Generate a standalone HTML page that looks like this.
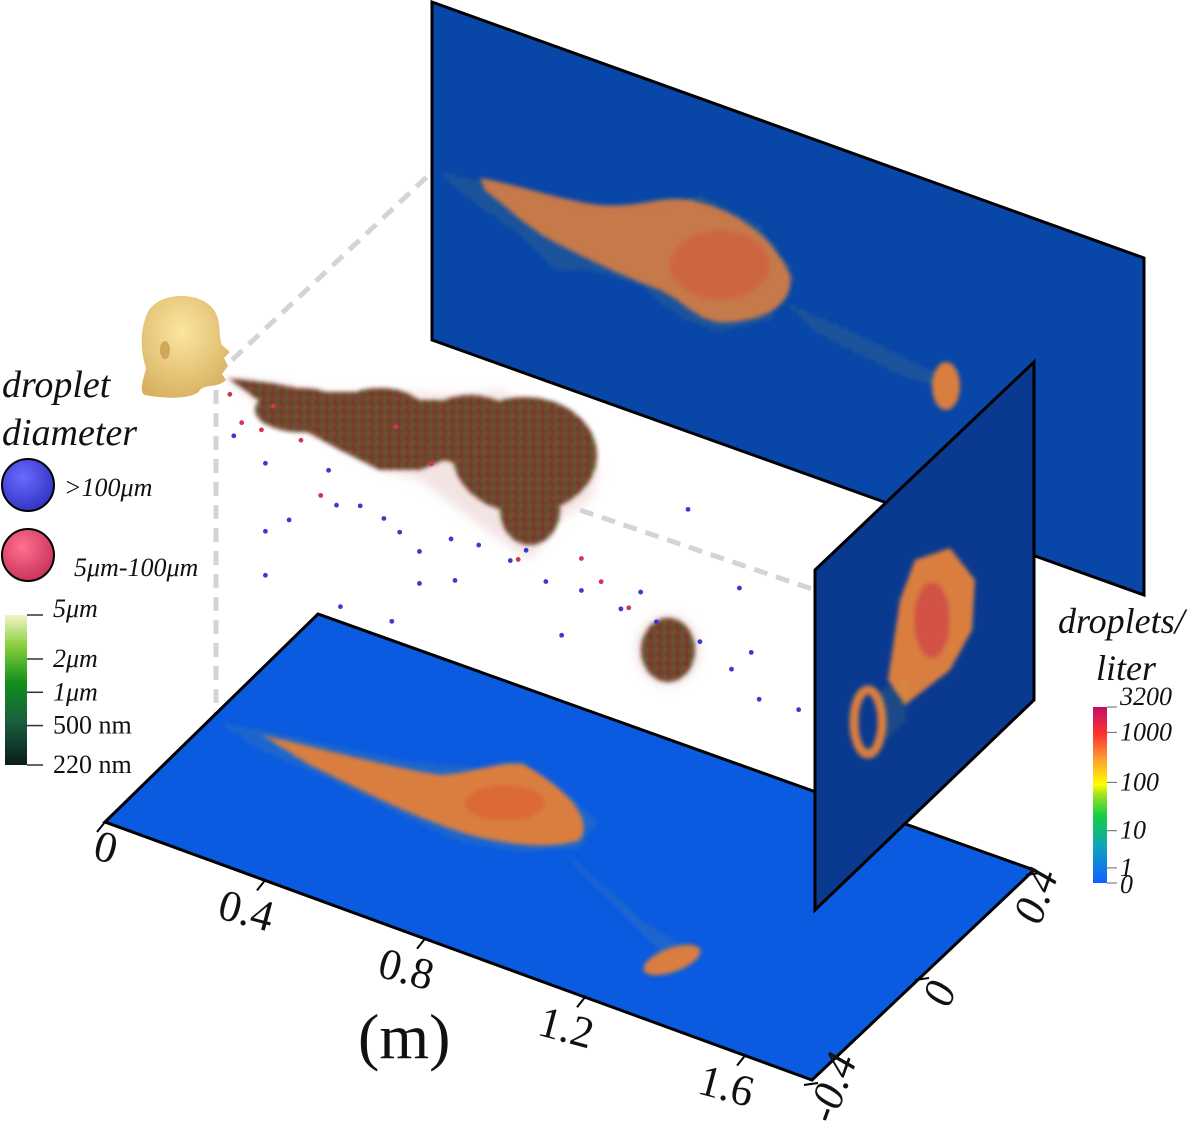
<!DOCTYPE html>
<html><head><meta charset="utf-8"><style>
html,body{margin:0;padding:0;background:#fff;}
svg{display:block;font-family:"Liberation Serif",serif;}
</style></head><body>
<svg id="chart" width="1200" height="1136" viewBox="0 0 1200 1136" xmlns="http://www.w3.org/2000/svg">
<defs>
  <filter id="blur2" x="-20%" y="-20%" width="140%" height="140%"><feGaussianBlur stdDeviation="2"/></filter>
  <filter id="blur5" x="-30%" y="-30%" width="160%" height="160%"><feGaussianBlur stdDeviation="5"/></filter>
  <filter id="blur8" x="-30%" y="-30%" width="160%" height="160%"><feGaussianBlur stdDeviation="8"/></filter>
  <pattern id="speck" width="9" height="9" patternUnits="userSpaceOnUse">
    <rect width="9" height="9" fill="#4a3420"/>
    <circle cx="2" cy="2" r="1.6" fill="#c8304a"/>
    <circle cx="6.5" cy="5" r="1.4" fill="#8a8a3a"/>
    <circle cx="3" cy="7" r="1.2" fill="#b02a40"/>
    <circle cx="7.5" cy="1" r="0.9" fill="#d8c870"/>
  </pattern>
  <pattern id="speckO" width="5" height="5" patternUnits="userSpaceOnUse">
    <rect width="5" height="5" fill="#e07a40"/>
    <circle cx="1.2" cy="1.2" r="0.9" fill="#a8b040"/>
    <circle cx="3.8" cy="3.5" r="0.9" fill="#d85038"/>
  </pattern>
  <pattern id="speckG" width="6" height="6" patternUnits="userSpaceOnUse">
    <circle cx="1.5" cy="1.5" r="0.9" fill="#9ac040"/>
    <circle cx="4.5" cy="4.5" r="0.8" fill="#c8b040"/>
  </pattern>
  <linearGradient id="rainbow" x1="0" y1="1" x2="0" y2="0">
    <stop offset="0" stop-color="#1060ff"/><stop offset="0.2" stop-color="#10a0c0"/>
    <stop offset="0.38" stop-color="#10d040"/><stop offset="0.5" stop-color="#a0e020"/>
    <stop offset="0.56" stop-color="#ffff00"/><stop offset="0.7" stop-color="#ffa030"/>
    <stop offset="0.85" stop-color="#ff3030"/><stop offset="1" stop-color="#c0106a"/>
  </linearGradient>
  <linearGradient id="greenbar" x1="0" y1="1" x2="0" y2="0">
    <stop offset="0" stop-color="#0a1e1a"/><stop offset="0.3" stop-color="#1a6040"/>
    <stop offset="0.55" stop-color="#10901a"/><stop offset="0.8" stop-color="#8ad040"/>
    <stop offset="1" stop-color="#f4f4c8"/>
  </linearGradient>
  <radialGradient id="blueBall" cx="0.4" cy="0.35" r="0.7"><stop offset="0" stop-color="#6a6aff"/><stop offset="1" stop-color="#3030c0"/></radialGradient>
  <radialGradient id="pinkBall" cx="0.4" cy="0.35" r="0.7"><stop offset="0" stop-color="#ff7090"/><stop offset="1" stop-color="#c83058"/></radialGradient>
  <radialGradient id="skin" cx="0.45" cy="0.35" r="0.7"><stop offset="0" stop-color="#fbe6a0"/><stop offset="1" stop-color="#d8b060"/></radialGradient>
</defs>

<!-- back plane -->
<g>
  <polygon points="432,2 1144,258 1144,595 432,340" fill="#0846a8" stroke="#000" stroke-width="3"/>
  <g filter="url(#blur2)">
    <polygon points="440,172 520,190 600,215 660,210 700,195 760,225 795,275 785,300 770,320 720,332 680,318 640,285 590,270 555,270 520,235 470,200" fill="url(#speckG)"/>
    <path d="M480,178 C520,185 560,200 600,205 C640,208 660,195 690,200 C740,210 775,240 790,275 C795,300 770,320 730,322 C700,325 690,305 660,290 C620,275 590,260 560,245 C530,230 510,210 485,190 Z" fill="url(#speckO)" opacity="0.9"/>
    <ellipse cx="720" cy="265" rx="50" ry="35" fill="#d8503a" opacity="0.45"/>
    <polygon points="780,300 860,335 930,370 945,390 900,375 820,335" fill="url(#speckG)"/>
    <ellipse cx="946" cy="386" rx="14" ry="24" fill="url(#speckO)"/>
  </g>
</g>

<!-- dashed guide lines -->
<g stroke="#d4d4d8" stroke-width="5" stroke-dasharray="14,9" fill="none">
  <line x1="232" y1="360" x2="432" y2="172"/>
  <line x1="216" y1="390" x2="216" y2="720"/>
  <line x1="580" y1="510" x2="815" y2="590"/>
</g>

<!-- floor plane -->
<g>
  <polygon points="105,822 318,614 1034,870 812,1080" fill="#0a5be0" stroke="#000" stroke-width="3"/>
  <g filter="url(#blur2)">
    <polygon points="218,722 300,738 400,760 480,768 520,760 560,790 598,820 580,848 520,852 460,842 400,815 330,780 260,750" fill="url(#speckG)"/>
    <path d="M262,735 C320,748 380,765 440,775 C480,772 500,760 525,765 C560,785 595,815 580,840 C550,850 510,845 470,835 C420,820 370,795 310,765 Z" fill="url(#speckO)"/>
    <ellipse cx="505" cy="803" rx="40" ry="18" fill="#e04a30" opacity="0.4"/>
    <polygon points="560,845 640,920 690,950 660,950 580,870" fill="url(#speckG)"/>
    <ellipse cx="672" cy="960" rx="30" ry="12" fill="url(#speckO)" transform="rotate(-20 672 960)"/>
  </g>
</g>

<!-- 3D cloud -->
<g>
  <g filter="url(#blur5)" opacity="0.5">
    <polygon points="225,378 270,382 330,395 400,392 460,395 500,390 560,420 600,470 590,500 560,520 530,560 500,540 460,510 420,480 380,470 330,440 280,420" fill="#e8c8c8"/>
    <ellipse cx="668" cy="650" rx="32" ry="36" fill="#e8c8c8"/>
  </g>
  <g fill="url(#speck)" filter="url(#blur2)">
    <polygon points="228,378 270,383 320,392 360,392 400,400 440,400 470,420 470,450 420,470 380,470 340,450 300,428 265,405"/>
    <ellipse cx="300" cy="410" rx="45" ry="22"/>
    <ellipse cx="380" cy="420" rx="50" ry="32"/>
    <ellipse cx="525" cy="455" rx="72" ry="58"/>
    <ellipse cx="470" cy="430" rx="50" ry="35"/>
    <ellipse cx="530" cy="510" rx="30" ry="35"/>
  </g>
  <ellipse cx="668" cy="650" rx="27" ry="32" fill="url(#speck)" filter="url(#blur2)"/>
  <g id="points"></g>
</g>

<!-- side plane -->
<g>
  <polygon points="815,570 1034,362 1034,700 815,910" fill="#0a3a90" stroke="#000" stroke-width="3"/>
  <g filter="url(#blur2)">
    <polygon points="915,560 950,548 975,580 972,630 950,670 905,705 888,680 900,600" fill="url(#speckO)"/>
    <ellipse cx="932" cy="620" rx="18" ry="38" fill="#c8204a" opacity="0.45"/>
    <ellipse cx="868" cy="722" rx="14" ry="32" fill="none" stroke="url(#speckO)" stroke-width="9"/>
    <polygon points="880,690 910,680 905,720 885,740" fill="url(#speckG)"/>
  </g>
</g>

<!-- head -->
<g>
  <path d="M148,312 C158,292 200,290 214,310 C222,322 218,336 222,345 L230,352 L224,358 L228,366 L222,374 L226,380 C218,388 206,384 200,390 C196,398 170,400 145,395 C138,392 144,378 146,368 C140,350 140,328 148,312 Z" fill="url(#skin)"/>
  <ellipse cx="165" cy="350" rx="5" ry="9" fill="#d0a858"/>
</g>

<!-- left legend -->
<g font-style="italic" fill="#111">
  <text x="2" y="397" font-size="38">droplet</text>
  <text x="2" y="445" font-size="38">diameter</text>
  <circle cx="28" cy="485" r="26" fill="url(#blueBall)" stroke="#000" stroke-width="2"/>
  <text x="64" y="496" font-size="26">&gt;100μm</text>
  <circle cx="28" cy="555" r="26" fill="url(#pinkBall)" stroke="#000" stroke-width="2"/>
  <text x="74" y="576" font-size="26">5μm-100μm</text>
  <rect x="5" y="615" width="22" height="150" fill="url(#greenbar)"/>
  <g id="leftTicks"></g>
</g>

<!-- right colorbar -->
<g font-style="italic" fill="#111">
  <text x="1058" y="633" font-size="36">droplets/</text>
  <text x="1096" y="680" font-size="36">liter</text>
  <rect x="1093" y="707" width="14" height="176" fill="url(#rainbow)"/>
  <g id="rightTicks"></g>
</g>

<!-- axes -->
<g id="axes"></g>
<text x="358" y="1058" font-size="64" fill="#111">(m)</text>

<script>
const NS='http://www.w3.org/2000/svg';
// data
const blueD=[0.04,0.12,0.12,0.18,0.28,0.30,0.36,0.42,0.46,0.51,0.51,0.59,0.60,0.66,0.74,0.78,0.83,0.92,1.02,1.07,1.11,1.22,1.30,1.35,1.37,1.47,0.31,0.44,0.12,0.87,1.19,1.32];
const blueH=[-0.13,-0.17,-0.34,-0.29,-0.13,-0.21,-0.19,-0.20,-0.22,-0.25,-0.33,-0.19,-0.29,-0.18,-0.19,-0.15,-0.21,-0.20,-0.21,-0.15,-0.21,-0.22,-0.26,-0.20,-0.31,-0.30,-0.46,-0.45,-0.45,-0.33,0.10,-0.05];
const pinkD=[0.03,0.06,0.11,0.14,0.21,0.26,0.45,0.54,0.76,0.92,0.97,1.04];
const pinkH=[-0.03,-0.09,-0.09,-0.02,-0.08,-0.20,0.04,-0.02,-0.18,-0.12,-0.16,-0.20];
const xTicks=[0,0.4,0.8,1.2,1.6];
const xTickLabels=['0','0.4','0.8','1.2','1.6'];
const zTicks=[-0.4,0,0.4];
const zTickLabels=['-0.4','0','0.4'];
const sizeTicks=[5,2,1,0.5,0.22];
const sizeTickLabels=['5μm','2μm','1μm','500 nm','220 nm'];
const concTicks=[3200,1000,100,10,1,0];
const concTickLabels=['3200','1000','100','10','1','0'];

// axis functions
const sx=(d)=>218+d*395;
const sy=(d,h)=>378+d*144-h*400;
const fx=(d)=>105+d*400;
const fy=(d)=>822+d*146;
const zx=(z)=>938+z*255;
const zy=(z)=>993-z*240;
const sizeY=(v)=>765-150*Math.log(v/0.22)/Math.log(5/0.22);
const concY=(v)=>883-176*Math.log10(v+1)/Math.log10(3201);

const pts=document.getElementById('points');
blueD.forEach((d,i)=>{const c=document.createElementNS(NS,'circle');
c.setAttribute('cx',sx(d));c.setAttribute('cy',sy(d,blueH[i]));c.setAttribute('r',2.4);c.setAttribute('fill','#3a3ad0');


pts.appendChild(c);});
pinkD.forEach((d,i)=>{const c=document.createElementNS(NS,'circle');
c.setAttribute('cx',sx(d));c.setAttribute('cy',sy(d,pinkH[i]));c.setAttribute('r',2.4);c.setAttribute('fill','#d83058');


pts.appendChild(c);});

const ax=document.getElementById('axes');
xTicks.forEach((v,i)=>{
 const l=document.createElementNS(NS,'line');
 l.setAttribute('x1',fx(v));l.setAttribute('y1',fy(v));l.setAttribute('x2',fx(v)-8);l.setAttribute('y2',fy(v)+10);
 l.setAttribute('stroke','#000');l.setAttribute('stroke-width','2');
 
 
 ax.appendChild(l);
 const t=document.createElementNS(NS,'text');
 t.setAttribute('x',fx(v)-(i===0?14:48));t.setAttribute('y',fy(v)+(i===0?40:50));
 t.setAttribute('font-size','44');t.setAttribute('fill','#111');
 t.setAttribute('transform','rotate(15 '+(fx(v))+' '+(fy(v)+40)+')');
 t.textContent=xTickLabels[i];
 
 
 ax.appendChild(t);
});
zTicks.forEach((v,i)=>{
 const l=document.createElementNS(NS,'line');
 const bx=812+(v+0.4)/0.8*222-8, by=1080-(v+0.4)/0.8*210+5;
 l.setAttribute('x1',bx);l.setAttribute('y1',by);l.setAttribute('x2',bx+14);l.setAttribute('y2',by-2);
 l.setAttribute('stroke','#000');l.setAttribute('stroke-width','2');
 
 
 ax.appendChild(l);
 const t=document.createElementNS(NS,'text');
 t.setAttribute('x',zx(v));t.setAttribute('y',zy(v)+(v===0?16:10));
 t.setAttribute('font-size','44');t.setAttribute('fill','#111');t.setAttribute('font-style','italic');
 t.setAttribute('text-anchor','middle');
 t.setAttribute('transform','rotate(-70 '+zx(v)+' '+zy(v)+')');
 t.textContent=zTickLabels[i];
 
 
 ax.appendChild(t);
});

const lt=document.getElementById('leftTicks');
sizeTicks.forEach((v,i)=>{
 const y=sizeY(v);
 const l=document.createElementNS(NS,'line');
 l.setAttribute('x1',27);l.setAttribute('x2',43);l.setAttribute('y1',y);l.setAttribute('y2',y);
 l.setAttribute('stroke','#333');l.setAttribute('stroke-width','1.5');
 
 
 lt.appendChild(l);
 const t=document.createElementNS(NS,'text');
 t.setAttribute('x',53);t.setAttribute('y',y+(i===0?2:8));t.setAttribute('font-size','26');
 t.setAttribute('font-style',i>=3?'normal':'italic');
 t.textContent=sizeTickLabels[i];
 
 
 lt.appendChild(t);
});
const rt=document.getElementById('rightTicks');
concTicks.forEach((v,i)=>{
 const y=concY(v);
 const l=document.createElementNS(NS,'line');
 l.setAttribute('x1',1107);l.setAttribute('x2',1117);l.setAttribute('y1',y);l.setAttribute('y2',y);
 l.setAttribute('stroke','#666');l.setAttribute('stroke-width','1');
 
 
 rt.appendChild(l);
 const t=document.createElementNS(NS,'text');
 t.setAttribute('x',1120);t.setAttribute('y',y+(i===0?-2:(i===5?10:8)));t.setAttribute('font-size','26');
 t.textContent=concTickLabels[i];
 
 
 rt.appendChild(t);
});
</script>
</svg>
</body></html>
